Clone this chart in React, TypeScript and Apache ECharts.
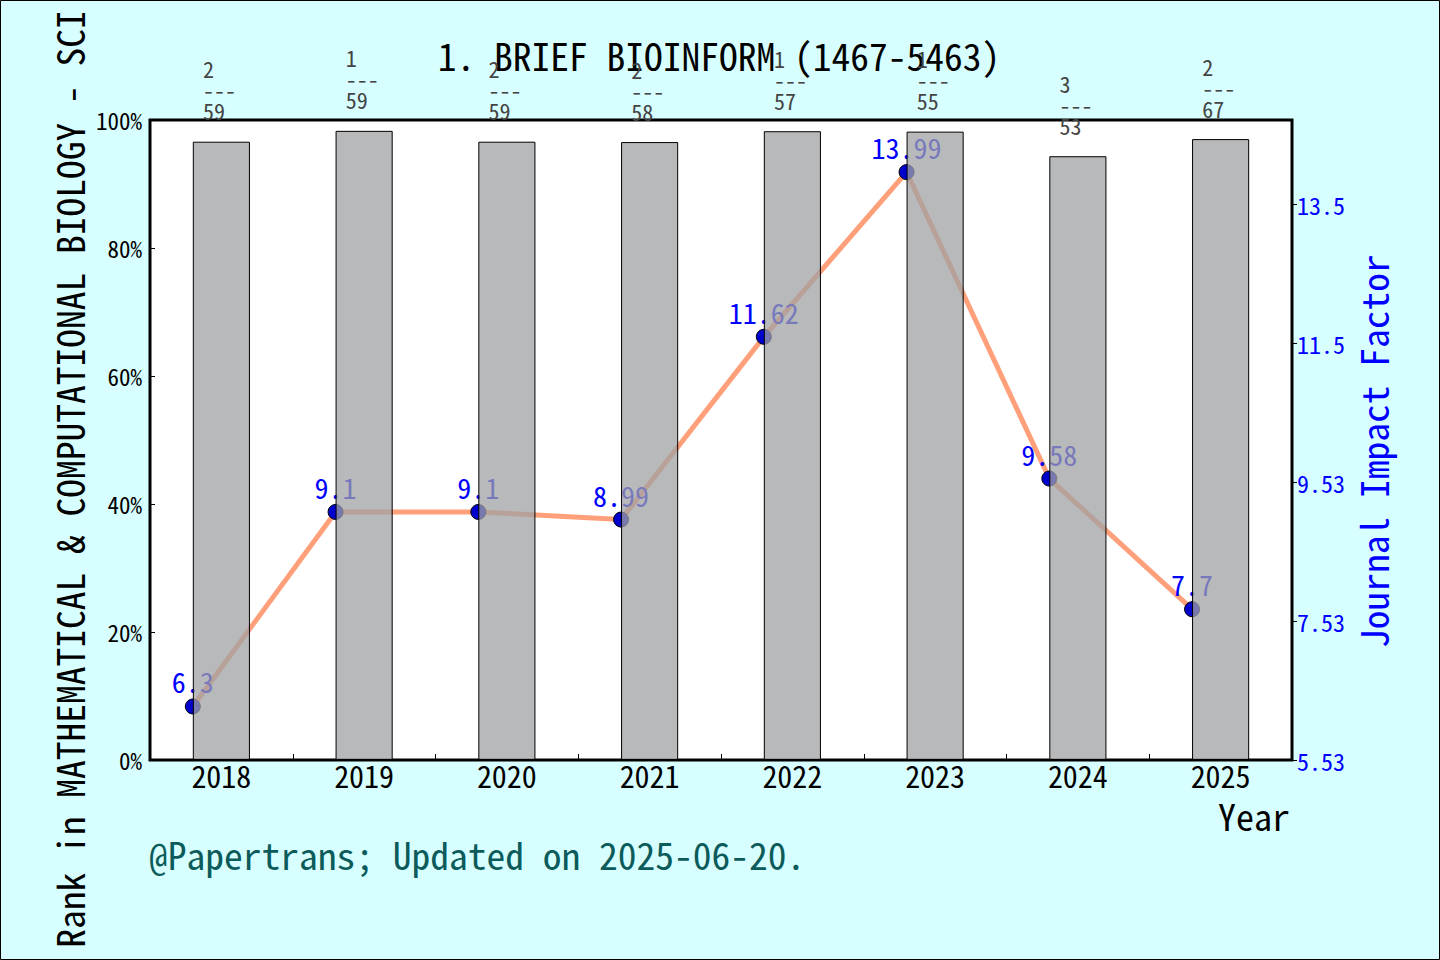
import React, { useEffect, useRef } from "react";
import * as echarts from "echarts";

const years = ["2018", "2019", "2020", "2021", "2022", "2023", "2024", "2025"];
const ranks = [2, 1, 2, 2, 1, 1, 3, 2];
const totals = [59, 59, 59, 58, 57, 55, 53, 67];
const impactFactors = [6.3, 9.1, 9.1, 8.99, 11.62, 13.99, 9.58, 7.7];
const ifAxisMin = 5.53;
const ifAxisMax = 14.74;
const ifAxisStep = 2;

const titleText = "1. BRIEF BIOINFORM (1467-5463)";
const leftAxisName = "Rank in MATHEMATICAL & COMPUTATIONAL BIOLOGY - SCI";
const rightAxisName = "Journal Impact Factor";
const footerText = "@Papertrans; Updated on 2025-06-20.";
const xAxisName = "Year";

const MONO = "'Noto Sans Mono CJK SC', 'DejaVu Sans Mono', monospace";

export default function App() {
  const ref = useRef<HTMLDivElement>(null);

  useEffect(() => {
    if (!ref.current) return;
    const chart = echarts.init(ref.current, undefined, { renderer: "svg" });

    const percentiles = ranks.map((r, i) => 1 - r / totals[i]);
    const lineData = impactFactors.map((v, i) => [i - 0.2, v]);

    const option: any = {
      animation: false,
      backgroundColor: "#d8ffff",
      grid: {
        left: 150,
        top: 120,
        right: 148,
        bottom: 200,
        show: true,
        backgroundColor: "#ffffff",
        borderColor: "#000000",
        borderWidth: 3,
      },
      xAxis: [
        {
          type: "category",
          data: years,
          boundaryGap: true,
          axisLine: { show: false, onZero: false },
          axisTick: { show: true, inside: true, length: 6, lineStyle: { color: "#000", width: 1 } },
          axisLabel: { color: "#000", fontSize: 30, lineHeight: 30, fontFamily: MONO, margin: 0 },
          splitLine: { show: false },
        },
        {
          type: "value",
          min: -0.5,
          max: 7.5,
          show: false,
          axisLine: { onZero: false },
        },
      ],
      yAxis: [
        {
          type: "value",
          min: 0,
          max: 1,
          interval: 0.2,
          position: "left",
          axisLine: { show: false, onZero: false },
          axisTick: { show: true, inside: true, length: 5, lineStyle: { color: "#000" } },
          axisLabel: {
            color: "#000",
            fontSize: 23,
            fontFamily: MONO,
            margin: 8,
            formatter: (v: number) => Math.round(v * 100) + "%",
          },
          splitLine: { show: false },
        },
        {
          type: "value",
          min: ifAxisMin,
          max: ifAxisMax,
          interval: ifAxisStep,
          position: "right",
          axisLine: { show: false, onZero: false },
          axisTick: { show: true, inside: false, length: 5, lineStyle: { color: "#000" } },
          axisLabel: {
            color: "#0000ff",
            fontSize: 24,
            fontFamily: MONO,
            margin: 5,
            showMaxLabel: false,
            formatter: (v: number) => v.toFixed(2).slice(0, 4),
          },
          splitLine: { show: false },
        },
      ],
      series: [
        {
          type: "line",
          xAxisIndex: 1,
          yAxisIndex: 1,
          z: 2,
          data: lineData,
          symbol: "circle",
          symbolSize: 15,
          lineStyle: { color: "#ffa07a", width: 5 },
          itemStyle: { color: "#0000cd", borderColor: "#000", borderWidth: 1 },
          label: {
            show: true,
            position: "top",
            distance: 3,
            color: "#0000ff",
            fontSize: 28,
            fontFamily: MONO,
            formatter: (p: any) => String(impactFactors[p.dataIndex]),
          },
        },
        {
          type: "bar",
          xAxisIndex: 0,
          yAxisIndex: 0,
          z: 3,
          barWidth: "40%",
          data: percentiles,
          itemStyle: {
            color: "rgba(160,161,164,0.75)",
            borderColor: "#000",
            borderWidth: 1,
          },
          label: {
            show: true,
            position: "top",
            distance: 21,
            offset: [-2, 0],
            formatter: (p: any) =>
              `{a|${ranks[p.dataIndex]}}\n{a|---}\n{a|${totals[p.dataIndex]}}`,
            rich: {
              a: {
                width: 33,
                align: "left",
                fontSize: 22,
                lineHeight: 21,
                color: "#444444",
                fontFamily: MONO,
              },
            },
          },
        },
      ],
      graphic: [
        {
          type: "rect",
          shape: { x: 0.5, y: 0.5, width: 1439, height: 959 },
          style: { fill: "none", stroke: "#000", lineWidth: 1 },
          silent: true,
        },
        {
          type: "text",
          x: 719,
          y: 54,
          style: {
            text: titleText,
            fontSize: 37.5,
            fontFamily: MONO,
            fill: "#000",
            align: "center",
            verticalAlign: "middle",
            textAlign: "center",
            textVerticalAlign: "middle",
          },
        },
        {
          type: "text",
          x: 68,
          y: 479,
          rotation: Math.PI / 2,
          style: {
            text: leftAxisName,
            fontSize: 37.5,
            fontFamily: MONO,
            fill: "#000",
            align: "center",
            verticalAlign: "middle",
            textAlign: "center",
            textVerticalAlign: "middle",
          },
        },
        {
          type: "text",
          x: 1372,
          y: 451,
          rotation: Math.PI / 2,
          style: {
            text: rightAxisName,
            fontSize: 37.5,
            fontFamily: MONO,
            fill: "#0000ff",
            align: "center",
            verticalAlign: "middle",
            textAlign: "center",
            textVerticalAlign: "middle",
          },
        },
        {
          type: "text",
          x: 149,
          y: 853,
          style: {
            text: footerText,
            fontSize: 37.5,
            fontFamily: MONO,
            fill: "#0b5b5b",
            align: "left",
            verticalAlign: "middle",
            textAlign: "left",
            textVerticalAlign: "middle",
          },
        },
        {
          type: "text",
          x: 1290,
          y: 815,
          style: {
            text: xAxisName,
            fontSize: 36,
            fontFamily: MONO,
            fill: "#000",
            align: "right",
            verticalAlign: "middle",
            textAlign: "right",
            textVerticalAlign: "middle",
          },
        },
      ],
    };

    chart.setOption(option);
    return () => chart.dispose();
  }, []);

  return (
    <div
      ref={ref}
      style={{ position: "fixed", left: 0, top: 0, width: 1440, height: 960 }}
    />
  );
}
